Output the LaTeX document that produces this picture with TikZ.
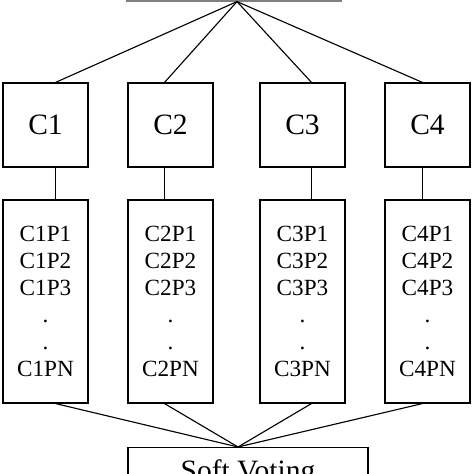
\documentclass[tikz,border=0pt]{standalone}
\usepackage{fontspec}
\setmainfont{Liberation Serif}
\usepackage{tikz}

\begin{document}
\begin{tikzpicture}[line width=0.8pt,
  cls/.style={draw, minimum width=2.125cm, minimum height=2.1cm, font=\fontsize{21}{25}\selectfont},
  col/.style={draw, minimum width=2.125cm, minimum height=5.075cm, align=center, font=\fontsize{16.5}{19.2}\selectfont}]
\useasboundingbox (0,0) rectangle (11.85,11.85);

\node[draw=gray, line width=2.2pt, minimum width=5.3cm, minimum height=1cm, anchor=south] (T) at (5.85,11.81) {};

  \node[cls]         (C1) at (1.1375,8.725)  {C1};
  \node[cls]         (C2) at (4.2625,8.725)  {C2};
  \node[cls]         (C3) at (7.5625,8.725)  {C3};
  \node[cls]         (C4) at (10.6875,8.725) {C4};

  \node[col]         (P1) at (1.1375,4.3125)  {C1P1\\C1P2\\C1P3\\.\\.\\C1PN};
  \node[col]         (P2) at (4.2625,4.3125)  {C2P1\\C2P2\\C2P3\\.\\.\\C2PN};
  \node[col]         (P3) at (7.5625,4.3125)  {C3P1\\C3P2\\C3P3\\.\\.\\C3PN};
  \node[col]         (P4) at (10.6875,4.3125) {C4P1\\C4P2\\C4P3\\.\\.\\C4PN};

  \node[draw, minimum width=6cm, inner ysep=8.8pt, anchor=north, font=\fontsize{21}{25}\selectfont] (V) at (6.2,0.675) {Soft Voting};

  \path 
        ([xshift=0.075cm]T.south) edge ([xshift=0.25cm]C1.north)
        ([xshift=0.075cm]T.south) edge ([xshift=-0.15cm]C2.north)
        ([xshift=0.075cm]T.south) edge ([xshift=0.225cm]C3.north)
        ([xshift=0.075cm]T.south) edge ([xshift=-0.125cm]C4.north);

  \path 
        ([xshift=0.25cm]C1.south)  edge ([xshift=0.25cm]P1.north)
        ([xshift=-0.15cm]C2.south)  edge ([xshift=-0.15cm]P2.north)
        ([xshift=0.225cm]C3.south)  edge ([xshift=0.225cm]P3.north)
        ([xshift=-0.125cm]C4.south) edge ([xshift=-0.125cm]P4.north);

  \path 
        ([xshift=0.25cm]P1.south)  edge ([xshift=-0.25cm]V.north)
        ([xshift=-0.15cm]P2.south)  edge ([xshift=-0.25cm]V.north)
        ([xshift=0.225cm]P3.south)  edge ([xshift=-0.25cm]V.north)
        ([xshift=-0.125cm]P4.south) edge ([xshift=-0.25cm]V.north);

\end{tikzpicture}
\end{document}
